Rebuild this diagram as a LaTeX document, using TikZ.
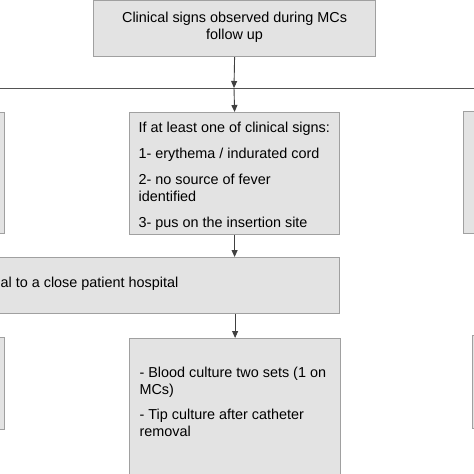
\documentclass[tikz,border=0pt]{standalone}
\usepackage{fontspec}
\setmainfont{Liberation Sans}
\usetikzlibrary{arrows.meta}
\definecolor{boxfill}{HTML}{E3E3E3}
\definecolor{boxline}{HTML}{A0A0A0}
\definecolor{arrowc}{HTML}{404040}
\begin{document}
\begin{tikzpicture}[x=1pt,y=-1pt,
  box/.style={draw=boxline, fill=boxfill, line width=1.2pt, inner sep=0pt, anchor=north west, font=\fontsize{14.4}{17}\selectfont},
  arr/.style={draw=arrowc, line width=0.9pt, -{Triangle[length=7pt,width=6pt]}},
  hline/.style={draw=arrowc!90, line width=0.9pt}]
\useasboundingbox (0,0) rectangle (474,474);
% top box
\node[box] (top) at (93,0) {\begin{minipage}[t][56pt][t]{282pt}\centering\vspace*{11pt}Clinical signs observed during MCs\\follow up\end{minipage}};
% horizontal line
\coordinate (hlL) at (0,88);
\coordinate (hlR) at (474,88);
\coordinate (hl) at (234,88);
\draw[hline] (hlL) -- (hlR);
% middle box
\node[box] (mid) at (129,112) {\begin{minipage}[t][122pt][t]{210pt}\leftskip=9pt\vspace*{9pt}If at least one of clinical signs:\par\vspace{9pt}1- erythema / indurated cord\par\vspace{9pt}2- no source of fever\\identified\par\vspace{9pt}3- pus on the insertion site\end{minipage}};
% side boxes
\node[box, minimum width=104pt, minimum height=121pt] (l1) at (-100,112) {};
\node[box, minimum width=120pt, minimum height=122pt] (r1) at (463,111) {};
% referral box
\node[box] (ref) at (-130,257) {\begin{minipage}[t][56pt][t]{469pt}\vspace*{19pt}\hspace*{130pt}al to a close patient hospital\end{minipage}};
% culture box
\node[box] (cult) at (129,338) {\begin{minipage}[t][160pt][t]{211pt}\leftskip=10pt\vspace*{28pt}- Blood culture two sets (1 on\\MCs)\par\vspace{8pt}- Tip culture after catheter\\removal\end{minipage}};
\node[box, minimum width=104pt, minimum height=92pt] (l2) at (-100,337) {};
\node[box, minimum width=100pt, minimum height=93pt] (r2) at (472,335) {};
% arrows
\draw[arr] (top.south) -- (hl);
\draw[arr] (hl) -- (mid.north);
\draw[arr] (mid.south) -- (mid.south |- ref.north);
\draw[arr] (ref.south -| cult.north) -- (cult.north);
\end{tikzpicture}
\end{document}
